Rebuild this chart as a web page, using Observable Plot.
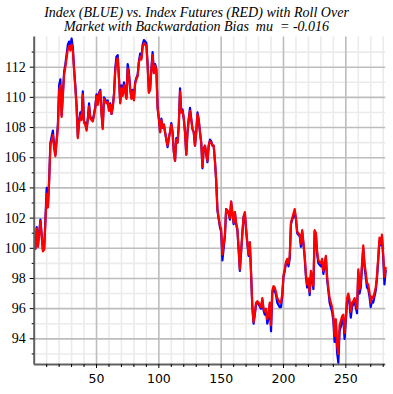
<!DOCTYPE html>
<html><head><meta charset="utf-8">
<script src="https://cdn.jsdelivr.net/npm/d3@7"></script>
<script src="https://cdn.jsdelivr.net/npm/@observablehq/plot@0.6"></script>
<style>
body{margin:0;background:#fff;}
#title{width:393px;height:34px;text-align:center;font-family:"Liberation Serif",serif;font-style:italic;font-size:14px;line-height:14.5px;padding-top:5.5px;box-sizing:border-box;color:#000;white-space:pre;}
</style></head><body>
<div id="title">Index (BLUE) vs. Index Futures (RED) with Roll Over
Market with Backwardation Bias  mu  = -0.016</div>
<div id="chart"></div>
<script>
const days = [1,2,3,5,7,8,10,11,12,13,15,16,17,19,20,21,22,24,25,27,28,29,30,31,32,33,34,35,36,37,38,39,40,41,42,43,44,45,47,48,49,50,51,52,53,54,55,56,58,59,60,61,62,63,64,65,66,67,68,69,70,71,72,74,75,76,77,78,79,80,81,82,83,84,85,86,87,88,90,91,92,93,94,95,96,97,98,99,100,101,102,103,104,106,107,108,109,110,111,112,113,114,115,116,117,118,119,120,121,122,123,124,125,127,128,129,130,131,132,133,134,135,136,137,139,140,141,142,143,144,145,146,147,149,150,151,153,154,156,157,158,159,160,161,162,163,164,165,167,168,169,170,171,172,173,174,175,176,177,178,179,180,182,183,184,185,186,187,188,189,190,191,192,193,194,195,197,198,199,200,201,202,203,204,205,206,207,208,209,210,211,213,214,215,216,217,218,219,220,221,222,223,224,225,226,227,228,230,231,232,233,234,235,236,237,238,239,240,241,242,243,244,245,246,247,248,249,250,251,252,253,254,255,256,257,259,260,261,262,263,264,265,266,267,268,269,270,271,272,274,275,276,277,278,279,280,281,282];
const indexValues = [100.0,101.4,100.2,101.9,99.9,99.95,104.0,102.8,104.6,107.0,107.8,106.8,106.2,108.2,110.8,111.2,108.8,111.7,112.2,113.5,113.7,113.4,113.9,113.3,111.9,110.8,109.5,107.4,108.4,109.0,108.6,110.4,108.4,108.3,107.9,108.6,109.6,108.7,108.5,108.9,109.4,110.2,109.6,110.3,110.5,109.0,108.0,110.0,109.7,109.8,109.2,109.6,108.9,109.4,110.2,111.9,112.7,112.8,111.3,109.7,110.8,110.2,111.0,110.0,112.2,111.7,110.6,110.0,110.5,109.9,111.0,111.3,111.5,112.4,112.9,112.6,113.5,113.8,113.6,112.2,110.4,110.6,111.9,113.0,111.7,112.2,111.9,109.3,108.6,107.7,108.6,108.0,108.2,107.2,106.7,107.3,107.7,108.3,107.7,106.4,105.8,107.3,107.0,108.2,110.6,109.0,109.2,108.6,107.7,106.2,107.7,108.6,109.3,107.9,107.7,106.8,107.7,109.0,108.5,107.7,107.0,105.3,106.6,106.8,105.7,106.8,107.2,107.1,106.8,106.8,105.8,104.5,102.5,101.4,101.1,99.2,100.8,102.6,102.3,101.9,103.1,102.3,101.6,102.4,101.6,101.2,99.9,98.5,101.0,102.1,102.3,101.2,100.3,99.5,100.4,98.3,96.1,95.0,95.6,96.3,96.4,96.3,96.0,96.6,95.9,95.6,95.9,95.0,95.4,96.3,94.5,97.0,97.3,97.2,96.9,96.4,96.1,96.1,96.8,98.1,98.5,99.0,99.2,98.8,99.3,101.6,101.9,102.1,102.4,101.9,101.0,100.8,100.1,101.1,100.3,99.4,98.1,97.4,97.8,96.9,98.3,98.0,97.3,101.1,100.9,99.6,99.0,98.8,99.1,98.3,98.8,99.4,97.9,97.2,96.4,96.1,95.8,95.2,93.8,95.0,93.1,92.4,94.5,94.8,95.2,95.3,94.0,95.2,96.5,96.8,96.3,95.4,96.1,96.3,96.5,95.7,98.4,97.0,97.4,98.8,100.0,98.8,98.1,97.4,97.3,96.8,96.1,96.5,96.4,97.2,98.0,99.2,100.5,100.2,100.8,99.4,97.6,98.5];
const futuresValues = [99.95,101.3,100.1,101.8,99.8,99.9,103.6,102.7,104.4,106.8,107.5,106.6,106.1,108.0,110.4,110.8,108.7,111.5,112.0,113.2,113.4,113.1,113.5,113.1,111.8,110.6,109.3,107.3,108.3,108.8,108.5,110.2,108.3,108.2,107.8,108.5,109.4,108.6,108.4,108.8,109.3,110.1,109.5,110.2,110.4,108.9,107.9,109.9,109.6,109.7,109.1,109.5,108.9,109.3,110.1,111.7,112.4,112.6,111.2,109.6,110.6,110.1,110.8,109.9,111.9,111.5,110.5,109.9,110.4,109.8,110.9,111.2,111.4,112.3,112.7,112.5,113.3,113.6,113.4,112.1,110.3,110.5,111.8,112.8,111.6,112.1,111.8,109.3,108.6,107.7,108.5,108.0,108.2,107.2,106.8,107.3,107.7,108.2,107.7,106.4,105.8,107.2,107.0,108.1,110.4,109.0,109.1,108.6,107.7,106.2,107.7,108.5,109.1,107.9,107.7,106.8,107.7,108.9,108.5,107.7,107.0,105.4,106.6,106.8,105.8,106.8,107.1,107.0,106.8,106.8,105.8,104.5,102.6,101.5,101.3,99.6,100.9,102.6,102.4,102.0,103.1,102.4,101.7,102.4,101.7,101.3,100.0,98.6,101.0,102.1,102.4,101.3,100.4,99.6,100.4,98.4,96.2,95.1,95.7,96.4,96.5,96.4,96.1,96.7,96.0,95.8,96.0,95.3,95.6,96.4,94.9,97.2,97.5,97.4,97.1,96.7,96.4,96.4,97.0,98.2,98.6,99.1,99.3,99.0,99.5,101.7,102.0,102.3,102.6,102.0,101.1,100.9,100.3,101.2,100.4,99.5,98.3,97.6,98.0,97.1,98.5,98.2,97.5,101.2,101.0,99.8,99.2,99.0,99.3,98.5,99.0,99.5,98.1,97.4,96.7,96.4,96.1,95.5,94.2,95.3,93.6,93.0,94.9,95.2,95.5,95.6,94.4,95.4,96.7,97.0,96.6,95.8,96.4,96.5,96.7,96.0,98.6,97.3,97.7,99.0,100.2,99.0,98.4,97.7,97.6,97.1,96.4,96.8,96.7,97.4,98.2,99.4,100.7,100.3,100.9,99.6,98.1,98.7];

const xDomain = [0, 282];
const yDomain = [92.3, 114.0];
const xMajor = [50, 100, 150, 200, 250];
const xMinor = [10,20,30,40,60,70,80,90,110,120,130,140,160,170,180,190,210,220,230,240,260,270,280];
const yMajor = [94, 96, 98, 100, 102, 104, 106, 108, 110, 112];
const yMinor = [93, 95, 97, 99, 101, 103, 105, 107, 109, 111, 113];

const indexData = days.map((d, i) => ({day: d, value: indexValues[i]}));
const futuresData = days.map((d, i) => ({day: d, value: futuresValues[i]}));

const chart = Plot.plot({
  width: 393,
  height: 360,
  marginTop: 2.5,
  marginBottom: 30,
  marginLeft: 33.7,
  marginRight: 7.8,
  style: {background: "#fff", overflow: "visible"},
  x: {domain: xDomain, label: null},
  y: {domain: yDomain, label: null},
  marks: [
    Plot.ruleX(xMinor, {stroke: "#ebebeb", strokeWidth: 1.6}),
    Plot.ruleY(yMinor, {stroke: "#ebebeb", strokeWidth: 1.6}),
    Plot.ruleX(xMajor, {stroke: "#bdbdbd", strokeWidth: 1.6}),
    Plot.ruleY(yMajor, {stroke: "#bdbdbd", strokeWidth: 1.6}),
    Plot.line(indexData, {x: "day", y: "value", stroke: "#0000ff", strokeWidth: 2.2}),
    Plot.line(futuresData, {x: "day", y: "value", stroke: "#ff0000", strokeWidth: 2.2}),
    Plot.ruleX([xDomain[0]], {stroke: "#606060", strokeWidth: 2}),
    Plot.ruleY([yDomain[0]], {stroke: "#606060", strokeWidth: 2}),
    Plot.axisY({ticks: yMajor, label: null, tickSize: 4, tickPadding: 4.5, tickFormat: d => String(d), fontFamily: "Liberation Serif", fontSize: 14, color: "#000", stroke: "#000"}),
    Plot.axisY({ticks: yMinor, label: null, tickSize: 2, tickFormat: () => "", stroke: "#000"}),
    Plot.axisX({ticks: xMajor, label: null, tickSize: 4, tickPadding: 6, tickFormat: d => String(d), fontFamily: "DejaVu Sans", fontSize: 12.5, color: "#000", stroke: "#000"}),
    Plot.axisX({ticks: xMinor, label: null, tickSize: 3, tickFormat: () => "", stroke: "#000"})
  ]
});
document.getElementById("chart").appendChild(chart);
</script></body></html>
